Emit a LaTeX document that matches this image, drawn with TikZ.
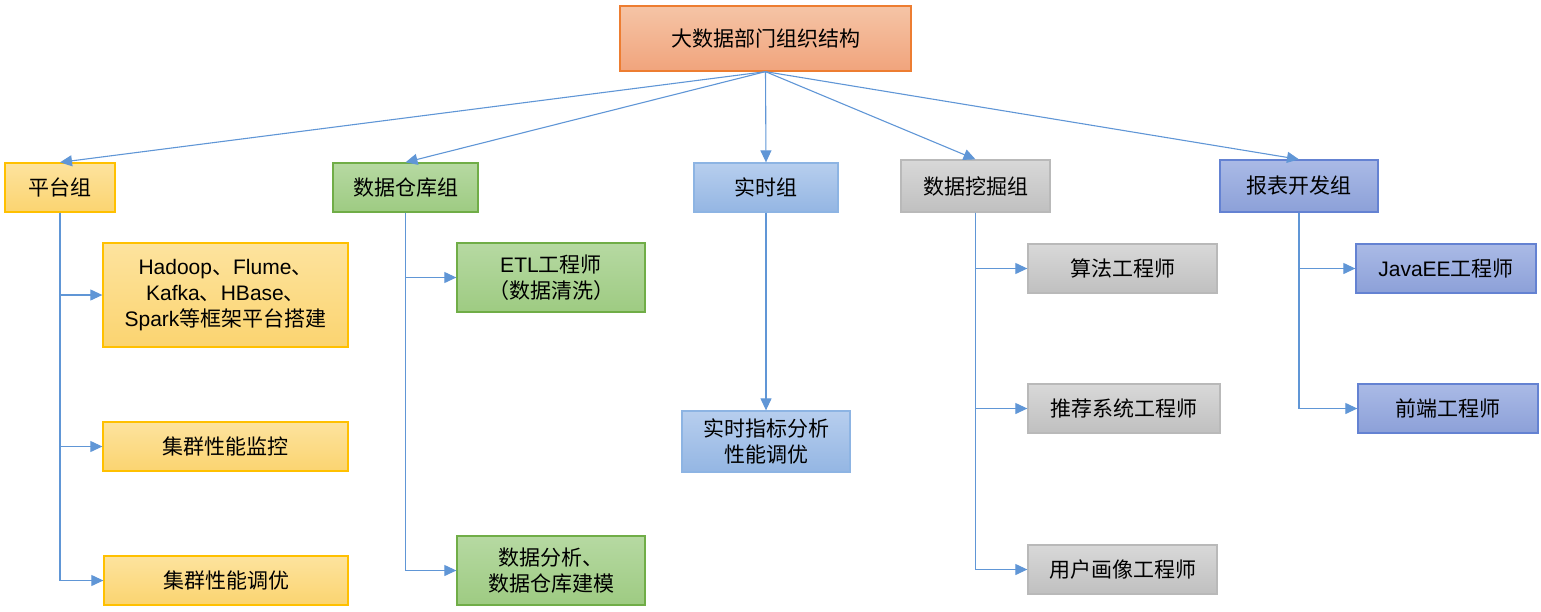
\documentclass[tikz,border=0pt]{standalone}
\usepackage{fontspec}
\setmainfont{Noto Sans CJK SC}
\newfontfamily\lat{Liberation Sans}
\usetikzlibrary{arrows.meta}
\definecolor{ln}{RGB}{96,150,214}
\definecolor{oT}{RGB}{245,196,166}\definecolor{oB}{RGB}{241,164,124}\definecolor{oD}{RGB}{237,125,49}
\definecolor{yT}{RGB}{253,227,158}\definecolor{yB}{RGB}{251,212,112}\definecolor{yD}{RGB}{255,192,0}
\definecolor{gT}{RGB}{182,217,162}\definecolor{gB}{RGB}{158,203,130}\definecolor{gD}{RGB}{112,173,71}
\definecolor{bT}{RGB}{183,206,238}\definecolor{bB}{RGB}{148,182,227}\definecolor{bD}{RGB}{141,180,227}
\definecolor{kT}{RGB}{216,216,216}\definecolor{kB}{RGB}{192,192,192}\definecolor{kD}{RGB}{185,185,185}
\definecolor{pT}{RGB}{170,186,230}\definecolor{pB}{RGB}{140,160,216}\definecolor{pD}{RGB}{100,130,210}
\begin{document}
\begin{tikzpicture}[x=1pt,y=-1pt,
  box/.style={inner sep=0pt,align=center,font=\fontsize{21}{26}\selectfont,line width=1.3pt,text=black},
  orb/.style={box,draw=oD,top color=oT,bottom color=oB},
  ylb/.style={box,draw=yD,top color=yT,bottom color=yB},
  grb/.style={box,draw=gD,top color=gT,bottom color=gB},
  blb/.style={box,draw=bD,top color=bT,bottom color=bB},
  gyb/.style={box,draw=kD,top color=kT,bottom color=kB},
  ppb/.style={box,draw=pD,top color=pT,bottom color=pB},
  arr/.style={draw=ln,line width=1.1pt,-{Triangle[length=12pt,width=11pt]}}]
\useasboundingbox (0,0) rectangle (1541,611);
\node[orb,minimum width=291pt,minimum height=65pt] (top) at (765.5,38.5) {大数据部门组织结构};
\node[ylb,minimum width=110pt,minimum height=49pt] (p) at (60,187.5) {平台组};
\node[grb,minimum width=145pt,minimum height=49pt] (w) at (405.5,187.5) {数据仓库组};
\node[blb,minimum width=144pt,minimum height=49pt] (r) at (766,187.5) {实时组};
\node[gyb,minimum width=149pt,minimum height=52pt] (m) at (975.5,186) {数据挖掘组};
\node[ppb,minimum width=158pt,minimum height=52pt] (b) at (1299,186) {报表开发组};
\node[ylb,minimum width=245pt,minimum height=104pt] (p1) at (225.5,295) {{\lat Hadoop}、{\lat Flume}、\\{\lat Kafka}、{\lat HBase}、\\{\lat Spark}等框架平台搭建};
\node[ylb,minimum width=245pt,minimum height=49pt] (p2) at (225.5,446.5) {集群性能监控};
\node[ylb,minimum width=244pt,minimum height=49pt] (p3) at (226,580.5) {集群性能调优};
\node[grb,minimum width=188pt,minimum height=69pt] (w1) at (551,277.5) {{\lat ETL}工程师\\（数据清洗）};
\node[grb,minimum width=188pt,minimum height=69pt] (w2) at (551,570.5) {数据分析、\\数据仓库建模};
\node[blb,minimum width=168pt,minimum height=61pt] (r1) at (766,441.5) {实时指标分析\\性能调优};
\node[gyb,minimum width=189pt,minimum height=49pt] (m1) at (1122.5,268.5) {算法工程师};
\node[gyb,minimum width=192pt,minimum height=49pt] (m2) at (1124,408.5) {推荐系统工程师};
\node[gyb,minimum width=189pt,minimum height=49pt] (m3) at (1122.5,569.5) {用户画像工程师};
\node[ppb,minimum width=180pt,minimum height=49pt] (b1) at (1446,268.5) {{\lat JavaEE}工程师};
\node[ppb,minimum width=180pt,minimum height=49pt] (b2) at (1448,408.5) {前端工程师};
\foreach \g in {p,w,r,m,b} \draw[arr] (top.south) -- (\g.north);
\foreach \c in {p1,p2,p3} \draw[arr] (p.south) |- (\c.west);
\foreach \c in {w1,w2} \draw[arr] (w.south) |- (\c.west);
\draw[arr] (r.south) -- (r1.north);
\foreach \c in {m1,m2,m3} \draw[arr] (m.south) |- (\c.west);
\foreach \c in {b1,b2} \draw[arr] (b.south) |- (\c.west);
\end{tikzpicture}
\end{document}
